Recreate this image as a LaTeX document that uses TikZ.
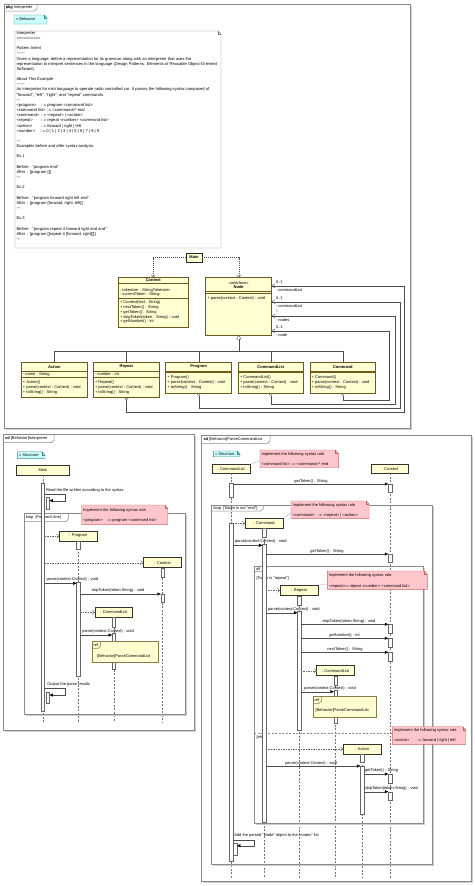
\documentclass[tikz,border=0pt]{standalone}
\usepackage{fontspec}
\setmainfont{Liberation Sans}[Ligatures=TeXOff]
\usetikzlibrary{arrows.meta}
\definecolor{clsfill}{HTML}{FFFFD2}
\definecolor{clsdraw}{HTML}{6E5A1E}
\definecolor{pinkfill}{HTML}{FFC6CC}
\definecolor{pinkdraw}{HTML}{C86060}
\definecolor{cyanfill}{HTML}{CCFFFF}
\definecolor{cyandraw}{HTML}{2E8B8B}
\definecolor{frm}{HTML}{8A8A8A}
\definecolor{shd}{HTML}{CDCDCD}
\newcommand\fs{\fontsize{4}{5}\selectfont}
\newcommand\bx[6]{\node[#1, minimum width={(#5)-(#3)}, minimum height={(#6)-(#4)}] (#2) at ({((#3)+(#5))/2},{((#4)+(#6))/2}) {};}
\newcommand\nt[6]{%
 \draw[#1] (#3,#4) -- ({(#5)-3},#4) -- (#5,{(#4)+3}) -- (#5,#6) -- (#3,#6) -- cycle;
 \draw[#1,fill=none] ({(#5)-3},#4) -- ({(#5)-3},{(#4)+3}) -- (#5,{(#4)+3});
 \coordinate (#2) at ({((#3)+(#5))/2},{((#4)+(#6))/2});}
\newcommand\frm[7]{%
 \draw[shd, line width=1.2pt] ({(#1)+1.5},{(#4)+0.9}) -- ({(#3)+0.9},{(#4)+0.9}) -- ({(#3)+0.9},{(#2)+1.5});
 \draw[frameline] (#1,#2) rectangle (#3,#4);
 \draw[frameline] (#1,#6) -- ({(#5)-2.5},#6) -- (#5,{(#6)-2.5}) -- (#5,#2);
 \node[txt] at ({(#1)+1.8},{((#2)+(#6))/2}) {#7};}
\tikzset{
 every node/.style={inner sep=0pt, outer sep=0pt},
 txt/.style={font=\fs, anchor=west},
 ctxt/.style={font=\fs, anchor=center},
 btxt/.style={font=\fs\bfseries, anchor=center},
 cls/.style={draw=clsdraw, fill=clsfill, line width=0.5pt},
 sep/.style={draw=clsdraw, line width=0.4pt},
 mainbox/.style={draw=black!85, fill=clsfill, line width=0.9pt},
 llbox/.style={draw=black!80, fill=clsfill, line width=0.8pt},
 actbar/.style={draw=black!60, fill=white, line width=0.4pt},
 life/.style={draw=black!55, dash pattern=on 2pt off 1.5pt, line width=0.4pt},
 msg/.style={draw=black!70, line width=0.4pt, -{Triangle[length=3.5pt,width=3pt,fill=black,color=black]}},
 createmsg/.style={draw=black!60, dash pattern=on 1.5pt off 1pt, line width=0.4pt, -{Straight Barb[length=2.5pt,width=4pt]}},
 dep/.style={draw=black!70, dash pattern=on 1pt off 1pt, line width=0.4pt, -{Straight Barb[length=2.5pt,width=4pt]}},
 assoc/.style={draw=black!70, line width=0.4pt, -{Straight Barb[length=3pt,width=4pt]}},
 plain/.style={draw=black!70, line width=0.4pt},
 pinknote/.style={draw=pinkdraw, fill=pinkfill, line width=0.4pt},
 cyannote/.style={draw=cyandraw, fill=cyanfill, line width=0.4pt},
 whitenote/.style={draw=black!50, fill=white, line width=0.4pt},
 frameline/.style={draw=frm, line width=0.5pt},
 reffill/.style={draw=clsdraw!80, fill=clsfill, line width=0.5pt},
 noteconn/.style={draw=black!50, dash pattern=on 1pt off 1pt, line width=0.4pt},
}
\begin{document}
\begin{tikzpicture}[x=1pt,y=-1pt]
\useasboundingbox (0,0) rectangle (474,886);
\fill[white] (0,0) rectangle (474,886);

% ================= package diagram =================
\frm{4}{4}{410}{428}{37}{11}{\textbf{pkg} Interpreter}
\nt{cyannote}{behav}{14}{15}{47}{24}
\node[txt] at (16,19.5) {» Behavior};
\nt{whitenote}{intro}{15}{31}{221}{248}
\node[font=\fontsize{4.1}{5.15}\selectfont, align=left, anchor=north west] (introtext) at (16.5,31.5) {%
Interpreter\\
==========\\
~\\
Pattern Intent\\
------\\
Given a language, define a representation for its grammar along with an interpreter that uses the\\
representation to interpret sentences in the language (Design Patterns: Elements of Reusable Object-Oriented\\
Software).\\
~\\
About This Example\\
------\\
An interpreter for mini language to operate radio controlled car. It parses the following syntax composed of\\
"forward", "left", "right", and "repeat" commands.\\
---\\
\makebox[25pt][l]{<program>}::= program <command list>\\
<command list> ::= <command>* end\\
\makebox[25pt][l]{<command>}::= <repeat> | <action>\\
\makebox[25pt][l]{<repeat>}::= repeat <number> <command list>\\
\makebox[25pt][l]{<action>}::= forward | right | left\\
\makebox[24pt][l]{<number>}::= 0 | 1 | 2 | 3 | 4 | 5 | 6 | 7 | 8 | 9\\
~\\
---\\
Examples before and after syntax analysis.\\
~\\
Ex.1\\
~\\
Before : "program end"\\
After~~: [program []]\\
---\\
~\\
Ex.2\\
~\\
Before : "program forward right left end"\\
After~~: [program [forward, right, left]]\\
---\\
~\\
Ex.3\\
~\\
Before : "program repeat 4 forward right end end"\\
After~~: [program [[repeat 4 [forward, right]]]]\\
---};

% Main
\bx{mainbox}{main}{186}{253}{202}{262}
\node[btxt] at (main) {Main};
% Context
\bx{cls}{ctx}{118.3}{277.7}{188.3}{327.3}
\draw[sep] (118.3,283.3) -- (188.3,283.3);
\draw[sep] (118.3,297.7) -- (188.3,297.7);
\node[btxt] at (153.3,280.6) {Context};
\node[txt] at (120,290) {- tokenizer : StringTokenizer};
\node[txt] at (120,294.4) {- currentToken : String};
\node[txt] at (120,302.7) {+ Context(text : String)};
\node[txt] at (120,307.4) {+ nextToken() : String};
\node[txt] at (120,312.2) {+ getToken() : String};
\node[txt] at (120,317) {+ skipToken(token : String) : void};
\node[txt] at (120,321.8) {+ getNumber() : int};
% Node
\bx{cls}{nodeI}{205.7}{277.7}{271.7}{335}
\draw[sep] (205.7,291.3) -- (271.7,291.3);
\draw[sep] (205.7,293) -- (271.7,293);
\node[ctxt] at (238.7,282.6) {«interface»};
\node[btxt] at (238.7,287.3) {Node};
\node[txt] at (207.5,298.3) {+ parse(context : Context) : void};
% dependencies
\draw[dep] (main.west) -| (ctx.north);
\draw[dep] (main.east) -| (nodeI.north);

% subclasses
\bx{cls}{cAction}{21.3}{362.3}{87.3}{397.3}
\draw[sep] (21.3,370.7) -- (87.3,370.7);
\draw[sep] (21.3,377.4) -- (87.3,377.4);
\node[btxt] at (54.3,366.6) {Action};
\node[txt] at (23,374) {- name : String};
\node[txt] at (23,382.3) {+ Action()};
\node[txt] at (23,387.2) {+ parse(context : Context) : void};
\node[txt] at (23,392.1) {+ toString() : String};

\bx{cls}{cRepeat}{93.3}{362.3}{159.3}{397.3}
\draw[sep] (93.3,370.7) -- (159.3,370.7);
\draw[sep] (93.3,377.4) -- (159.3,377.4);
\node[btxt] at (126.3,366.6) {Repeat};
\node[txt] at (95,374) {- number : int};
\node[txt] at (95,382.3) {+ Repeat()};
\node[txt] at (95,387.2) {+ parse(context : Context) : void};
\node[txt] at (95,392.1) {+ toString() : String};

\bx{cls}{cProgram}{165.7}{362.3}{231.7}{393}
\draw[sep] (165.7,370.7) -- (231.7,370.7);
\draw[sep] (165.7,372.4) -- (231.7,372.4);
\node[btxt] at (198.7,366.6) {Program};
\node[txt] at (167.4,377.3) {+ Program()};
\node[txt] at (167.4,382.2) {+ parse(context : Context) : void};
\node[txt] at (167.4,387.1) {+ toString() : String};

\bx{cls}{cCList}{238.3}{362.3}{303.3}{393}
\draw[sep] (238.3,370.7) -- (303.3,370.7);
\draw[sep] (238.3,372.4) -- (303.3,372.4);
\node[btxt] at (270.8,366.6) {CommandList};
\node[txt] at (240,377.3) {+ CommandList()};
\node[txt] at (240,382.2) {+ parse(context : Context) : void};
\node[txt] at (240,387.1) {+ toString() : String};

\bx{cls}{cCommand}{310}{362.3}{375.7}{393}
\draw[sep] (310,370.7) -- (375.7,370.7);
\draw[sep] (310,372.4) -- (375.7,372.4);
\node[btxt] at (342.85,366.6) {Command};
\node[txt] at (311.7,377.3) {+ Command()};
\node[txt] at (311.7,382.2) {+ parse(context : Context) : void};
\node[txt] at (311.7,387.1) {+ toString() : String};

% generalization
\coordinate (bus) at (238.7,350.7);
\draw[plain] (cAction.north) -- (cAction.north |- bus) -- (cCommand.north |- bus) -- (cCommand.north);
\draw[plain] (cRepeat.north) -- (cRepeat.north |- bus);
\draw[plain] (cProgram.north) -- (cProgram.north |- bus);
\draw[plain] (cCList.north) -- (cCList.north |- bus);
\draw[plain] (bus) -- (238.7,339.2);
\draw[plain, fill=white] (nodeI.south) -- (236.5,339.2) -- (240.9,339.2) -- cycle;

% associations
\foreach \c in {cRepeat,cProgram,cCList,cCommand}{
  \draw[plain, fill=white] ([yshift=-1.3pt]\c.south) circle (1.3pt);
}
\draw[assoc] ([yshift=-2.6pt]cRepeat.south) |- (404.3,412.5) |- ([yshift=-8.3pt]nodeI.north east);
\draw[assoc] ([yshift=-2.6pt]cProgram.south) |- (400,408.3) |- ([yshift=-24pt]nodeI.north east);
\draw[assoc] ([yshift=-2.6pt]cCList.south) |- (394.7,404.2) |- ([yshift=-38.3pt]nodeI.north east);
\draw[assoc] ([yshift=-2.6pt]cCommand.south) |- (389.3,400.5) |- ([yshift=-53.3pt]nodeI.north east);
\node[txt] at (276,282.4) {0..1};
\node[txt] at (276,290) {- commandList};
\node[txt] at (276,298.1) {0..1};
\node[txt] at (276,305.7) {- commandList};
\node[txt] at (276,312.6) {*};
\node[txt] at (276,320.3) {- nodes};
\node[txt] at (276,327.4) {0..1};
\node[txt] at (276,335) {- node};

% ================= sd Interpreter =================
\frm{3.3}{434}{194.3}{730}{54}{442.7}{\textbf{sd} [Behavior]Interpreter}
\nt{cyannote}{lst}{17.3}{451.7}{45}{458.3}
\node[txt] at (19,455) {» Structure};
\bx{llbox}{lMain}{16.7}{465}{69}{475}
\node[ctxt] at (lMain) {Main};
\bx{llbox}{lProg}{59.3}{531}{97.3}{541}
\bx{llbox}{lCtx}{143.3}{557.7}{181.7}{567.7}
\bx{llbox}{lCL}{95}{607.3}{132.7}{617.3}
\draw[life] (lMain.south) -- (lMain.south |- 0,722);
\draw[life] (lProg.south) -- (lProg.south |- 0,722);
\draw[life] (lCtx.south) -- (lCtx.south |- 0,722);
\draw[life] (lCL.south) -- (lCL.south |- 0,722);
\node[ctxt] at (lProg) {: Program};
\node[ctxt] at (lCtx) {: Context};
\node[ctxt] at (lCL) {: CommandList};

\frm{24}{513.3}{185.7}{714.3}{68.3}{521.7}{loop\ \ [For each line]}
\nt{pinknote}{ln1}{81.7}{505}{167.7}{524.3}
\node[txt] at (83.3,510) {Implement the following syntax rule.};
\node[txt] at (83.3,520) {\makebox[23.5pt][l]{<program>}::= program <command list>};

\bx{actbar}{lMainA}{41.05}{483}{44.65}{710.7}
\bx{actbar}{lMainB}{45.85}{497}{49.45}{509.3}
\bx{actbar}{lMainC}{45.85}{692}{49.45}{703.3}
\bx{actbar}{lProgA0}{76.6}{541}{80}{549.3}
\bx{actbar}{lProgA}{76.6}{581.7}{80}{676}
\bx{actbar}{lCtxA0}{160.8}{567.7}{164.2}{576.7}
\bx{actbar}{lCtxA1}{160.8}{594}{164.2}{602.3}
\bx{actbar}{lCLA0}{112.1}{617.3}{115.5}{626.7}
\bx{actbar}{lCLA}{112.1}{633}{115.5}{669.3}

\draw[msg] (lMainA.east |- 0,494.5) -- (65.05,494.5) -- (65.05,500.7) -- (lMainB.east |- 0,500.7);
\node[txt] at (46,490.4) {Read the file written according to the syntax};
\draw[createmsg] (lMainA.east |- lProg.west) -- (lProg.west);
\draw[createmsg] (lMainA.east |- lCtx.west) -- (lCtx.west);
\draw[msg] (lMainA.east |- 0,583.3) -- (lProgA.west |- 0,583.3);
\node[txt] at (46.5,579.4) {parse(context:Context) : void};
\draw[msg] (lProgA.east |- lCtxA1.north) -- (lCtxA1.north west);
\node[ctxt] at (118,590) {skipToken(token:String) : void};
\draw[createmsg] (lProgA.east |- lCL.west) -- (lCL.west);
\draw[msg] (lProgA.east |- 0,635) -- (lCLA.west |- 0,635);
\node[txt] at (82.3,631) {parse(context:Context) : void};
\bx{reffill}{lRef}{92.3}{641.7}{158.3}{662.3}
\draw[reffill, fill=none] (92.3,648.3) -- (98.2,648.3) -- (100.7,645.8) -- (100.7,641.7);
\node[txt] at (93.6,645) {ref};
\node[txt] at (97.3,656) {[Behavior]ParseCommandList};
\draw[msg] (lMainA.east |- 0,688.3) -- (65.05,688.3) -- (65.05,695) -- (lMainC.east |- 0,695);
\node[txt] at (47.3,684.3) {Output the parse results};

% ================= sd ParseCommandList =================
\frm{201.7}{435}{471.7}{881.7}{270}{443.3}{\textbf{sd} [Behavior]ParseCommandList}
\nt{cyannote}{rst}{213.3}{451}{240}{456.7}
\node[txt] at (215,453.9) {» Structure};
\bx{llbox}{rCL}{212.3}{464.3}{250}{473.3}
\bx{llbox}{rCtx}{371.7}{464.3}{408.3}{473.3}
\bx{llbox}{rCmd}{245}{518.3}{283.3}{528.3}
\bx{llbox}{rRep}{280}{585}{318.3}{595.7}
\bx{llbox}{rCL2}{316.7}{665.7}{354.3}{675.7}
\bx{llbox}{rAct}{343.3}{744}{381}{754}
\foreach \n in {rCL,rCtx,rCmd,rRep,rCL2,rAct}{
  \draw[life] (\n.south) -- (\n.south |- 0,878);
}
\node[ctxt] at (rCL) {: CommandList};
\node[ctxt] at (rCtx) {: Context};
\node[ctxt] at (rCmd) {: Command};
\node[ctxt] at (rRep) {: Repeat};
\node[ctxt] at (rCL2) {: CommandList};
\node[ctxt] at (rAct) {: Action};

\frm{211.7}{505}{432.3}{864.3}{263.3}{511}{loop\ \ [Token is not "end"]}
\frm{254.3}{566.7}{423.3}{823.3}{265}{571.7}{alt}
\draw[frameline, dash pattern=on 2pt off 1.5pt] (254.3,733.3) -- (423.3,733.3);
\node[txt] at (256.5,578.3) {[Token is "repeat"]};
\node[txt] at (256.5,737.3) {[else]};

\nt{pinknote}{rn1}{260}{450}{338.3}{467.7}
\node[txt] at (261.7,454) {Implement the following syntax rule.};
\node[txt] at (261.7,463.7) {<command list> ::= <command>* end};
\draw[noteconn] (260,461) -- (rCL.north east);
\nt{pinknote}{rn2}{291}{501}{369}{518.3}
\node[txt] at (292.7,505) {Implement the following syntax rule.};
\node[txt] at (292.7,515.7) {\makebox[25pt][l]{<command>}::= <repeat> | <action>};
\draw[noteconn] (291,513) -- (rCmd.north east);
\nt{pinknote}{rn3}{327.3}{571}{427.3}{589.3}
\node[txt] at (329,575) {Implement the following syntax rule.};
\node[txt] at (329,586) {\makebox[15pt][l]{<repeat>}::= repeat <number> <command list>};
\draw[noteconn] (327.3,584) -- (rRep.north east);
\nt{pinknote}{rn4}{392.3}{726.7}{465.7}{744.3}
\node[txt] at (394,730) {Implement the following syntax rule.};
\node[txt] at (394,740.7) {\makebox[23pt][l]{<action>}::= forward | right | left};

\bx{actbar}{rCLA0}{229.45}{483.3}{232.85}{496.7}
\bx{actbar}{rCLA}{229.45}{522.7}{232.85}{861}
\bx{actbar}{rCLB}{233.2}{843}{236.8}{855}
\bx{actbar}{rCtxA0}{388.3}{484}{391.7}{491.7}
\bx{actbar}{rCtxA1}{388.3}{554}{391.7}{561.7}
\bx{actbar}{rCtxA2}{388.3}{624.3}{391.7}{633.3}
\bx{actbar}{rCtxA3}{388.3}{638.3}{391.7}{647.3}
\bx{actbar}{rCtxA4}{388.3}{652.3}{391.7}{661}
\bx{actbar}{rCtxA5}{388.3}{774}{391.7}{782.7}
\bx{actbar}{rCtxA6}{388.3}{791.7}{391.7}{800}
\bx{actbar}{rCmdA0}{262.45}{528.3}{265.85}{537.3}
\bx{actbar}{rCmdA}{262.45}{544}{265.85}{821.7}
\bx{actbar}{rRepA0}{297.45}{595.7}{300.85}{605}
\bx{actbar}{rRepA}{297.45}{611}{300.85}{730}
\bx{actbar}{rCL2A0}{333.8}{675.7}{337.2}{685}
\bx{actbar}{rCL2A}{333.8}{690}{337.2}{723.3}
\bx{actbar}{rActA0}{360.45}{754}{363.85}{762.3}
\bx{actbar}{rActA}{360.45}{766}{363.85}{814.3}

\draw[msg] (rCLA0.east |- rCtxA0.north) -- (rCtxA0.north west);
\node[ctxt] at (311,481.4) {getToken() : String};
\draw[createmsg] (rCLA.east |- rCmd.west) -- (rCmd.west);
\draw[msg] (rCLA.east |- 0,545.3) -- (rCmdA.west |- 0,545.3);
\node[txt] at (235,541.8) {parse(context:Context) : void};
\draw[msg] (rCmdA.east |- rCtxA1.north) -- (rCtxA1.north west);
\node[ctxt] at (327,551.4) {getToken() : String};
\draw[createmsg] (rCmdA.east |- rRep.west) -- (rRep.west);
\draw[msg] (rCmdA.east |- 0,612.7) -- (rRepA.west |- 0,612.7);
\node[txt] at (268,609) {parse(context:Context) : void};
\draw[msg] (rRepA.east |- rCtxA2.north) -- (rCtxA2.north west);
\node[ctxt] at (349,621.6) {skipToken(token:String) : void};
\draw[msg] (rRepA.east |- rCtxA3.north) -- (rCtxA3.north west);
\node[ctxt] at (344.5,635.6) {getNumber() : int};
\draw[msg] (rRepA.east |- rCtxA4.north) -- (rCtxA4.north west);
\node[ctxt] at (345,649.9) {nextToken() : String};
\draw[createmsg] (rRepA.east |- rCL2.west) -- (rCL2.west);
\draw[msg] (rRepA.east |- 0,691.7) -- (rCL2A.west |- 0,691.7);
\node[txt] at (304.3,688.3) {parse(context:Context) : void};
\bx{reffill}{rRef}{313.3}{696.7}{376.7}{717.3}
\draw[reffill, fill=none] (313.3,703.3) -- (319.2,703.3) -- (321.7,700.8) -- (321.7,696.7);
\node[txt] at (314.6,700) {ref};
\node[txt] at (315.7,710) {[Behavior]ParseCommandList};
\draw[createmsg] (rCmdA.east |- rAct.west) -- (rAct.west);
\draw[msg] (rCmdA.east |- rActA.north) -- (rActA.north west);
\node[ctxt] at (311,763.4) {parse(context:Context) : void};
\draw[msg] (rActA.east |- rCtxA5.north) -- (rCtxA5.north west);
\node[txt] at (365,770.6) {getToken() : String};
\draw[msg] (rActA.east |- rCtxA6.north) -- (rCtxA6.north west);
\node[txt] at (365,788.2) {skipToken(token:String) : void};
\draw[msg] (rCLA.east |- 0,840) -- (254.3,840) -- (254.3,845.7) -- (rCLB.east |- 0,845.7);
\node[txt] at (234.3,835.6) {Add the parsed "Node" object to the "nodes" list};
\end{tikzpicture}
\end{document}
